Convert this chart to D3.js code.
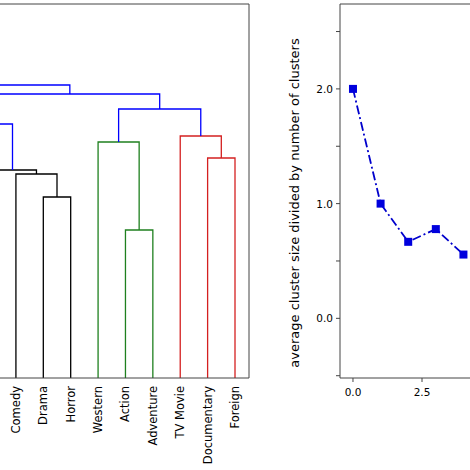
<!DOCTYPE html>
<html><head><meta charset="utf-8">
<script src="https://d3js.org/d3.v7.min.js"></script>
<style>body{margin:0;background:#fff;font-family:"DejaVu Sans",sans-serif;}</style>
</head><body><svg id="c" width="470" height="470"></svg>
<script>
// dendrogram leaves (left-most ones fall outside the visible crop)
const leaves = ["Animation","Family","Thriller","Crime","Romance","Comedy","Drama","Horror",
  "Western","Action","Adventure","TV Movie","Documentary","Foreign"];
// merges: [left, right, distance, colour group]
const merges = [
  ["Drama","Horror",1.81,"k"],
  ["Comedy","M0",2.04,"k"],
  ["Romance","M1",2.08,"k"],
  ["Thriller","Crime",2.3,"k"],
  ["M3","M2",2.54,"b"],
  ["Action","Adventure",1.48,"g"],
  ["Western","M5",2.36,"g"],
  ["Documentary","Foreign",2.20,"r"],
  ["TV Movie","M7",2.42,"r"],
  ["M6","M8",2.69,"b"],
  ["M4","M9",2.84,"b"],
  ["Animation","Family",2.0,"k"],
  ["M11","M10",2.93,"b"]
];
const colours = {k:"#000000", b:"#0000ff", g:"#1f801f", r:"#d42020"};

// right panel series
const nClusters = [0,1,2,3,4];
const avgSize = [2.0,1.0,0.667,0.778,0.556];
const yTicks = [-0.5,0,0.5,1,1.5,2,2.5];
const xTicks = [0,2.5,5];

const svg = d3.select("#c");
const plotTop = 4, plotBottom = 378;

// ---- dendrogram ----
const dx = d3.scalePoint().domain(leaves).range([-121, 235]);
const dy = d3.scaleLinear().domain([0, 3.74]).range([plotBottom, plotTop]);
svg.append("clipPath").attr("id","cl").append("rect").attr("x",0).attr("y",plotTop).attr("width",249).attr("height",plotBottom-plotTop);
const g = svg.append("g").attr("clip-path","url(#cl)");
const pos = {};
leaves.forEach(l => pos[l] = {x: dx(l), h: 0});
merges.forEach((m, i) => {
  const a = pos[m[0]], b = pos[m[1]];
  g.append("path")
    .attr("d", `M${a.x},${dy(a.h)}V${dy(m[2])}H${b.x}V${dy(b.h)}`)
    .attr("fill","none").attr("stroke", colours[m[3]]).attr("stroke-width",1.3);
  pos["M"+i] = {x: (a.x + b.x) / 2, h: m[2]};
});
svg.append("path").attr("d",`M0,${plotTop}H249V${plotBottom}H0`).attr("fill","none").attr("stroke","#444").attr("stroke-width",1);
leaves.forEach(l => {
  if (dx(l) < 0) return;
  svg.append("text").attr("transform",`translate(${dx(l)+4},386) rotate(-90)`)
    .attr("text-anchor","end").attr("font-size",11.5).text(l);
});

// ---- right panel ----
const x = d3.scaleLinear().domain([-0.47, 4.6]).range([340, 480]);
const y = d3.scaleLinear().domain([-0.52, 2.74]).range([plotBottom, plotTop]);
const ax = svg.append("g").attr("font-size",10.5);
ax.append("path").attr("d",`M470,${plotTop}H340V${plotBottom}H470`).attr("fill","none").attr("stroke","#444");
yTicks.forEach(t => {
  ax.append("line").attr("x1",336).attr("x2",340).attr("y1",y(t)).attr("y2",y(t)).attr("stroke","#444");
  if (Number.isInteger(t)) ax.append("text").attr("x",333).attr("y",y(t)+4).attr("text-anchor","end").text(t.toFixed(1));
});
xTicks.forEach(t => {
  ax.append("line").attr("x1",x(t)).attr("x2",x(t)).attr("y1",plotBottom).attr("y2",plotBottom+4).attr("stroke","#444");
  ax.append("text").attr("x",x(t)).attr("y",plotBottom+18).attr("text-anchor","middle").text(t.toFixed(1));
});
svg.append("text").attr("transform",`translate(299,203) rotate(-90)`).attr("text-anchor","middle")
  .attr("font-size",13).text("average cluster size divided by number of clusters");
const pts = nClusters.map((n, i) => [x(n), y(avgSize[i])]);
svg.append("path").attr("d", d3.line()(pts)).attr("fill","none").attr("stroke","#0000cc")
  .attr("stroke-width",1.8).attr("stroke-dasharray","9,3,2,3");
svg.selectAll("rect.m").data(pts).join("rect").attr("class","m")
  .attr("x",d=>d[0]-4).attr("y",d=>d[1]-4).attr("width",8).attr("height",8).attr("fill","#0000dd");
</script></body></html>
